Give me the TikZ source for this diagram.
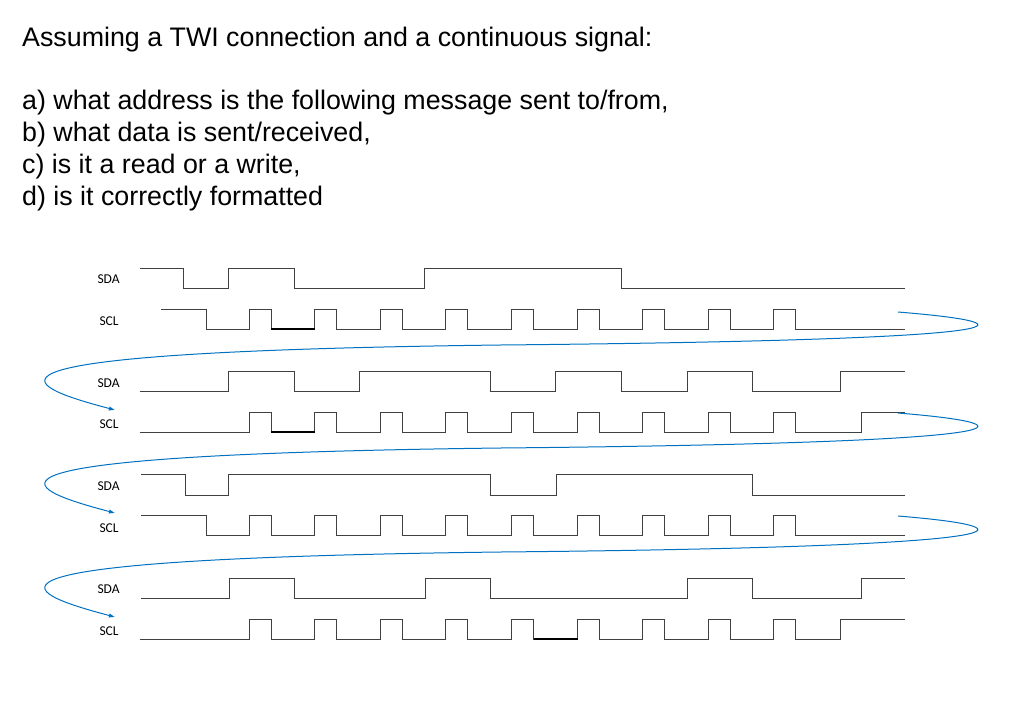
\documentclass[tikz,border=0pt]{standalone}
\usepackage{fontspec}
\setmainfont{Liberation Sans}
\newfontfamily\lblfont{Carlito}
\usetikzlibrary{arrows.meta,positioning}

\begin{document}
\begin{tikzpicture}[
x=1pt, y=-1pt,
wave/.style={line width=1pt, black!75},
bold/.style={line width=1.6pt, black},
sig/.style={font=\lblfont\fontsize{13.5}{13.5}\selectfont, anchor=west},
question/.style={font=\fontsize{26.8}{30}\selectfont, anchor=west, inner sep=0pt},
link/.style={draw={rgb,255:red,0;green,112;blue,192}, line width=1pt}]
\useasboundingbox (0,0) rectangle (1024,710);
% Text
\node[question] (q0) at (22,40) {Assuming a TWI connection and a continuous signal:};
\node[question] (qa) at (22,103) {a) what address is the following message sent to/from,};
\node[question] (qb) at (22,135) {b) what data is sent/received,};
\node[question] (qc) at (22,167) {c) is it a read or a write,};
\node[question] (qd) at (22,199) {d) is it correctly formatted};
% Labels
\node[sig] (sda1) at (94,279) {SDA};
\node[sig] (scl1) at (96,321) {SCL};
\node[sig] (sda2) at (94,383) {SDA};
\node[sig] (scl2) at (96,424) {SCL};
\node[sig] (sda3) at (94,486) {SDA};
\node[sig] (scl3) at (96,528) {SCL};
\node[sig] (sda4) at (94,589) {SDA};
\node[sig] (scl4) at (96,631) {SCL};
% Row 1
\draw[wave] (140,268) -- (183,268) -- (183,288) -- (228,288) -- (228,268) -- (294,268)
  -- (294,288) -- (424,288) -- (424,268) -- (621,268) -- (621,288) -- (905,288);
\draw[wave] (161,309) -- (206,309) -- (206,329)
  foreach \k in {0,...,8}{ -- ({249+65.6*\k},329) -- ++(0,-20) -- ++(22,0) -- ++(0,20)} -- (905,329);
\draw[bold] (271,329) -- (315,329);
% Row 2
\draw[wave] (140,391) -- (228,391) -- (228,371) -- (294,371) -- (294,391) -- (359,391)
  -- (359,371) -- (490,371) -- (490,391) -- (555,391) -- (555,371) -- (621,371)
  -- (621,391) -- (687,391) -- (687,371) -- (752,371) -- (752,391) -- (840,391)
  -- (840,371) -- (905,371);
\draw[wave] (140,432)
  foreach \k in {0,...,8}{ -- ({249+65.6*\k},432) -- ++(0,-20) -- ++(22,0) -- ++(0,20)}
  -- (861,432) -- (861,412) -- (905,412);
\draw[bold] (271,432) -- (315,432);
% Row 3
\draw[wave] (141,474) -- (185,474) -- (185,495) -- (228,495) -- (228,474) -- (490,474)
  -- (490,495) -- (556,495) -- (556,474) -- (752,474) -- (752,495) -- (905,495);
\draw[wave] (141,515) -- (206,515) -- (206,535)
  foreach \k in {0,...,8}{ -- ({249+65.6*\k},535) -- ++(0,-20) -- ++(22,0) -- ++(0,20)} -- (905,535);
% Row 4
\draw[wave] (141,598) -- (229,598) -- (229,578) -- (294,578) -- (294,598) -- (425,598)
  -- (425,578) -- (490,578) -- (490,598) -- (687,598) -- (687,578) -- (752,578)
  -- (752,598) -- (861,598) -- (861,578) -- (905,578);
\draw[wave] (140,639)
  foreach \k in {0,...,8}{ -- ({249+65.6*\k},639) -- ++(0,-20) -- ++(22,0) -- ++(0,20)}
  -- (840,639) -- (840,619) -- (905,619);
\draw[bold] (534,639) -- (578,639);
% Links
\coordinate (e1) at (898,312);
\coordinate (e2) at (898,413);
\coordinate (e3) at (898,516);
\draw[link, -{Latex[length=6pt]}] (e1) .. controls (1045,324) and (1030,340) .. (500,345)
  .. controls (-65,352) and (20,385) .. (115,410);
\draw[link, -{Latex[length=6pt]}] (e2) .. controls (1045,425) and (1030,443) .. (500,448)
  .. controls (-65,455) and (20,488) .. (115,513);
\draw[link, -{Latex[length=6pt]}] (e3) .. controls (1045,528) and (1030,547) .. (500,552)
  .. controls (-65,559) and (20,592) .. (115,617);
\end{tikzpicture}
\end{document}
